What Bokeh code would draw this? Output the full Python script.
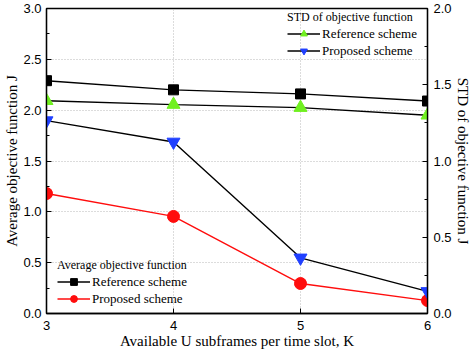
from bokeh.plotting import figure
from bokeh.models import Range1d, LinearAxis, FixedTicker, Legend, LegendItem
from bokeh.embed import file_html
from bokeh.resources import INLINE

K = [3, 4, 5, 6]
avg_reference = [2.29, 2.20, 2.16, 2.09]
avg_proposed = [1.18, 0.955, 0.295, 0.127]
std_reference = [1.395, 1.37, 1.35, 1.30]
std_proposed = [1.265, 1.125, 0.365, 0.145]
x_ticks = [3, 4, 5, 6]
left_ticks = [0, 0.5, 1.0, 1.5, 2.0, 2.5, 3.0]
left_minor = [0.25, 0.75, 1.25, 1.75, 2.25, 2.75]
right_ticks = [0, 0.5, 1.0, 1.5, 2.0]
right_minor = [0.25, 0.75, 1.25, 1.75]

SERIF = "Liberation Serif"
SANS = "Liberation Sans"
GREEN = "#70f020"
BLUE = "#2040ff"
RED = "#ff0d0d"

p = figure(width=474, height=351, x_range=Range1d(3, 6), y_range=Range1d(0, 3),
           output_backend="svg", toolbar_location=None,
           min_border_left=46, min_border_right=47, min_border_top=8, min_border_bottom=36)
p.extra_y_ranges = {"std": Range1d(0, 2)}
p.outline_line_color = "black"
p.outline_line_width = 1.3
p.background_fill_color = "white"
p.border_fill_color = "white"

# axes
ax = p.xaxis[0]
ax.ticker = FixedTicker(ticks=x_ticks, minor_ticks=[])
ax.major_label_overrides = {t: str(t) for t in x_ticks}
ax.axis_label = "Available U subframes per time slot, K"
ay = p.yaxis[0]
ay.ticker = FixedTicker(ticks=left_ticks, minor_ticks=left_minor)
ay.major_label_overrides = {t: f"{t:.1f}" for t in left_ticks}
ay.axis_label = "Average objective function J"
ry = LinearAxis(y_range_name="std", ticker=FixedTicker(ticks=right_ticks, minor_ticks=right_minor))
ry.major_label_overrides = {t: f"{t:.1f}" for t in right_ticks}
ry.axis_label = "STD of objective function J"
p.add_layout(ry, "right")
for a in (ax, ay, ry):
    a.axis_line_color = "black"
    a.axis_line_width = 1.3
    a.major_tick_in = 5
    a.major_tick_out = 0
    a.minor_tick_in = 3
    a.minor_tick_out = 0
    a.major_tick_line_color = "black"
    a.minor_tick_line_color = "black"
    a.major_label_text_font = SANS
    a.major_label_text_font_size = "13px"
    a.major_label_text_color = "black"
    a.major_label_standoff = 5
    a.axis_label_text_font = SERIF
    a.axis_label_text_font_size = "15px"
    a.axis_label_text_font_style = "normal"
    a.axis_label_text_color = "black"
    a.axis_label_standoff = 0
ax.major_label_standoff = 7
ry.major_label_standoff = 6

p.xgrid.ticker = FixedTicker(ticks=x_ticks)
p.ygrid.ticker = FixedTicker(ticks=left_ticks)
for g in (p.xgrid[0], p.ygrid[0]):
    g.grid_line_color = "#b8b8b8"
    g.grid_line_dash = "1 2"
    g.grid_line_width = 1

# data
l_ar = p.line(K, avg_reference, line_color="black", line_width=1.4)
m_ar = p.scatter(K, avg_reference, marker="square", size=10, fill_color="black", line_color="black")
l_ap = p.line(K, avg_proposed, line_color=RED, line_width=1.4)
m_ap = p.scatter(K, avg_proposed, marker="circle", size=12, fill_color=RED, line_color=RED)
l_sr = p.line(K, std_reference, line_color="black", line_width=1.4, y_range_name="std")
m_sr = p.scatter(K, std_reference, marker="triangle", size=13, fill_color=GREEN, line_color=GREEN, y_range_name="std")
l_sp = p.line(K, std_proposed, line_color="black", line_width=1.4, y_range_name="std")
m_sp = p.scatter(K, std_proposed, marker="inverted_triangle", size=13, fill_color=BLUE, line_color=BLUE, y_range_name="std")

def make_legend(title, items, loc):
    lg = Legend(items=items, location=loc, title=title, margin=0, padding=0,
                glyph_width=33, glyph_height=17, label_height=16, spacing=0,
                label_standoff=2, title_standoff=0,
                label_text_font=SERIF, label_text_font_size="13px", label_text_color="black",
                title_text_font=SERIF, title_text_font_size="12px", title_text_color="black",
                title_text_font_style="normal",
                background_fill_alpha=0, border_line_alpha=0)
    p.add_layout(lg, "center")
    return lg

make_legend("STD of objective function",
            [LegendItem(label="Reference scheme", renderers=[l_sr, m_sr]),
             LegendItem(label="Proposed scheme", renderers=[l_sp, m_sp])],
            (241, 254))
make_legend("Average objective function",
            [LegendItem(label="Reference scheme", renderers=[l_ar, m_ar]),
             LegendItem(label="Proposed scheme", renderers=[l_ap, m_ap])],
            (11, 6))

open("out.html", "w").write(file_html(p, INLINE))
